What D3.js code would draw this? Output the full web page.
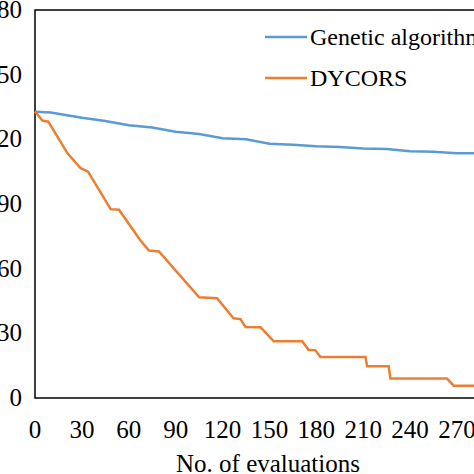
<!DOCTYPE html>
<html><head><meta charset="utf-8">
<script src="https://cdn.jsdelivr.net/npm/d3@7"></script>
<style>body{margin:0;background:#fff}svg{display:block}</style>
</head><body><svg id="c" width="474" height="474"></svg>
<script>
const xTicks=[0,30,60,90,120,150,180,210,240,270];
const yTicks=[0,30,60,90,120,150,180];
const gaX=[0,10,30,45,60,75,90,105,120,135,150,165,180,195,210,225,240,255,270,285];
const gaY=[132.8,132.4,130,128.5,126.5,125.5,123.5,122.5,120.5,120,118,117.5,116.8,116.5,115.8,115.5,114.5,114.2,113.6,113.5];
const dyX=[0,4.7,8.5,20.7,29.2,33.9,48.4,53.7,67.5,72.9,79.3,105,116.5,127,131.5,134.7,144.3,152.8,171,175,179.4,182.6,211.4,212.5,226.3,227.4,263.6,267.9,285];
const dyY=[132.9,128.7,128.2,113.6,106.6,105,87.6,87.3,73.1,68.4,68,46.7,46.3,37,36.6,32.9,32.8,26.3,26.3,22.4,22.1,19,19,14.7,14.7,9,9,5.7,5.7];
const series=[{name:"Genetic algorithm",x:gaX,y:gaY,c:"#5B9BD5"},{name:"DYCORS",x:dyX,y:dyY,c:"#ED7D31"}];
const svg=d3.select("#c");
const x=d3.scaleLinear().domain([0,270]).range([35,457]);
const y=d3.scaleLinear().domain([0,180]).range([398,10]);
const font="'Liberation Serif','Times New Roman',serif";
svg.append("rect").attr("x",35).attr("y",10).attr("width",520).attr("height",388).attr("fill","none").attr("stroke","#000").attr("stroke-width",1.5);
const line=d3.line().x(d=>x(d[0])).y(d=>y(d[1]));
series.forEach(s=>{
 svg.append("path").attr("d",line(s.x.map((v,i)=>[v,s.y[i]]))).attr("fill","none").attr("stroke",s.c).attr("stroke-width",2.5);
});
svg.selectAll(".xt").data(xTicks).enter().append("text").attr("x",d=>x(d)).attr("y",438).attr("text-anchor","middle")
 .attr("font-family",font).attr("font-size",25).text(d=>d);
svg.selectAll(".yt").data(yTicks).enter().append("text").attr("x",22).attr("y",d=>y(d)+8).attr("text-anchor","end")
 .attr("font-family",font).attr("font-size",25).text(d=>d);
svg.append("text").attr("x",268).attr("y",472).attr("text-anchor","middle").attr("font-family",font).attr("font-size",25).text("No. of evaluations");
series.forEach((s,i)=>{
 const ly=37+i*41;
 svg.append("line").attr("x1",265).attr("x2",307).attr("y1",ly).attr("y2",ly).attr("stroke",s.c).attr("stroke-width",2.5);
 svg.append("text").attr("x",310).attr("y",ly+8).attr("font-family",font).attr("font-size",24).text(s.name);
});
</script></body></html>
